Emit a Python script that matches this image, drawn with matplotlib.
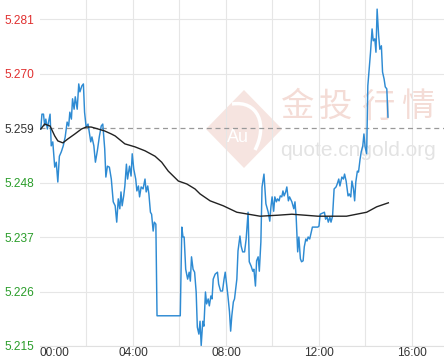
import numpy as np
import matplotlib
matplotlib.use("Agg")
import matplotlib.pyplot as plt
from matplotlib.patches import Polygon, PathPatch
from matplotlib.path import Path

# minutos desde 00:00 e preco
price_min = [2, 5, 9, 12, 15, 19, 22, 26, 29, 33, 38, 42, 46, 50, 55, 60, 65, 70, 74, 77,
             81, 84, 88, 91, 96, 100, 103, 108, 112, 115, 119, 124, 127, 131, 134, 139, 143, 148, 153, 158,
             162, 167, 170, 174, 179, 184, 189, 194, 198, 202, 206, 209, 212, 216, 219, 223, 226, 231, 235, 238,
             242, 247, 250, 254, 257, 261, 266, 271, 274, 278, 281, 285, 288, 292, 295, 299, 302, 362, 366, 369,
             372, 376, 381, 385, 388, 391, 395, 399, 403, 406, 410, 413, 416, 420, 423, 427, 430, 434, 437, 441,
             444, 447, 452, 458, 461, 466, 471, 475, 478, 482, 485, 489, 492, 495, 499, 502, 508, 511, 516, 519,
             523, 528, 532, 537, 540, 545, 549, 552, 556, 559, 563, 566, 570, 573, 578, 583, 589, 593, 596, 599,
             603, 606, 610, 613, 617, 620, 624, 627, 630, 634, 637, 641, 644, 650, 655, 658, 661, 665, 668, 672,
             675, 679, 682, 686, 689, 692, 696, 699, 703, 717, 720, 723, 734, 737, 741, 744, 748, 751, 755, 759,
             764, 767, 771, 774, 779, 783, 786, 790, 795, 798, 802, 805, 809, 812, 815, 819, 822, 826, 829, 833,
             836, 839, 843, 846, 850, 853, 857, 860, 864, 867, 870, 874, 877, 881, 884, 888, 891, 895, 898]
price_val = [5.2588, 5.2618, 5.2618, 5.2595, 5.2608, 5.2588, 5.2602, 5.2618, 5.2554, 5.2562,
             5.2511, 5.2521, 5.2481, 5.2533, 5.2542, 5.2554, 5.2572, 5.2602, 5.2594, 5.2622,
             5.2608, 5.2649, 5.2628, 5.2653, 5.2628, 5.2679, 5.2663, 5.2675, 5.2679, 5.2622,
             5.2592, 5.2598, 5.2582, 5.2562, 5.2572, 5.2554, 5.2521, 5.2544, 5.2572, 5.2594,
             5.2598, 5.2548, 5.2491, 5.2513, 5.2511, 5.2487, 5.2441, 5.2433, 5.2400, 5.2447,
             5.2427, 5.2461, 5.2433, 5.2453, 5.2473, 5.2517, 5.2487, 5.2513, 5.2493, 5.2538,
             5.2507, 5.2487, 5.2463, 5.2473, 5.2451, 5.2471, 5.2467, 5.2487, 5.2461, 5.2473,
             5.2457, 5.2420, 5.2416, 5.2382, 5.2400, 5.2396, 5.2211, 5.2211, 5.2390, 5.2370,
             5.2370, 5.2305, 5.2285, 5.2299, 5.2281, 5.2330, 5.2305, 5.2299, 5.2259, 5.2188,
             5.2174, 5.2200, 5.2151, 5.2200, 5.2190, 5.2259, 5.2235, 5.2245, 5.2231, 5.2251,
             5.2245, 5.2285, 5.2295, 5.2299, 5.2275, 5.2261, 5.2261, 5.2285, 5.2299, 5.2271,
             5.2251, 5.2219, 5.2180, 5.2211, 5.2239, 5.2245, 5.2285, 5.2342, 5.2372, 5.2352,
             5.2340, 5.2340, 5.2366, 5.2420, 5.2320, 5.2311, 5.2301, 5.2305, 5.2271, 5.2322,
             5.2330, 5.2301, 5.2360, 5.2471, 5.2497, 5.2437, 5.2420, 5.2402, 5.2431, 5.2451,
             5.2422, 5.2451, 5.2441, 5.2447, 5.2443, 5.2453, 5.2451, 5.2463, 5.2453, 5.2461,
             5.2471, 5.2443, 5.2451, 5.2441, 5.2427, 5.2441, 5.2412, 5.2340, 5.2370, 5.2326,
             5.2320, 5.2322, 5.2350, 5.2366, 5.2362, 5.2370, 5.2366, 5.2376, 5.2390, 5.2390,
             5.2392, 5.2416, 5.2420, 5.2406, 5.2410, 5.2400, 5.2410, 5.2400, 5.2412, 5.2467,
             5.2471, 5.2477, 5.2487, 5.2473, 5.2491, 5.2487, 5.2497, 5.2483, 5.2453, 5.2457,
             5.2451, 5.2483, 5.2467, 5.2443, 5.2481, 5.2503, 5.2501, 5.2527, 5.2542, 5.2554,
             5.2578, 5.2552, 5.2538, 5.2675, 5.2715, 5.2743, 5.2790, 5.2766, 5.2770, 5.2743,
             5.2830, 5.2776, 5.2749, 5.2756, 5.2703, 5.2689, 5.2673, 5.2669, 5.2612]

avg_min = [2, 12, 26, 38, 46, 59, 72, 90, 107, 119, 132, 150, 167, 184, 194, 219, 245, 271, 297, 314,
           331, 357, 379, 400, 413, 439, 473, 508, 538, 568, 614, 650, 684, 717, 753, 791, 843, 869, 899]
avg_val = [5.2588, 5.2598, 5.2594, 5.2574, 5.2564, 5.2560, 5.2568, 5.2578, 5.2588, 5.2592,
           5.2592, 5.2588, 5.2584, 5.2578, 5.2574, 5.2558, 5.2552, 5.2544, 5.2533, 5.2521,
           5.2503, 5.2483, 5.2477, 5.2467, 5.2457, 5.2443, 5.2433, 5.2420, 5.2416, 5.2412,
           5.2414, 5.2416, 5.2414, 5.2412, 5.2412, 5.2412, 5.2420, 5.2431, 5.2439]

prev_close = 5.259
y_ticks = [5.215, 5.226, 5.237, 5.248, 5.259, 5.270, 5.281]
x_ticks = [0, 240, 480, 720, 960]
x_labels = ["00:00", "04:00", "08:00", "12:00", "16:00"]

W, H = 444, 359
fig = plt.figure(figsize=(W / 100, H / 100), dpi=100)
ax = fig.add_axes([40 / W, 13 / H, 404 / W, 346 / H])

ax.set_xlim(0, 1042.6)
ax.set_ylim(5.215, 5.28484)

# grade
for v in y_ticks:
    if v == prev_close:
        continue
    ax.axhline(v, color="#e6e6e6", lw=0.8, zorder=1)
for m in range(120, 1042, 120):
    ax.axvline(m, color="#e6e6e6", lw=0.8, zorder=1)
ax.axhline(prev_close, color="#999999", lw=0.9, ls=(0, (4, 3)), zorder=2)

for s in ["top", "right", "left"]:
    ax.spines[s].set_visible(False)
ax.spines["bottom"].set_color("#e0e0e0")
ax.spines["bottom"].set_linewidth(0.8)

ax.plot(price_min, price_val, color="#2e8bd3", lw=1.05, zorder=4)
ax.plot(avg_min, avg_val, color="#222222", lw=1.0, zorder=5)

ax.set_yticks(y_ticks)
ax.set_yticklabels([f"{v:.3f}" for v in y_ticks])
for lab, v in zip(ax.get_yticklabels(), y_ticks):
    if v > prev_close + 1e-9:
        lab.set_color("#e02f2f")
    elif v < prev_close - 1e-9:
        lab.set_color("#2a9d2a")
    else:
        lab.set_color("#333333")
ax.set_xticks(x_ticks)
ax.set_xticklabels(x_labels, color="#333333")
ax.get_xticklabels()[0].set_horizontalalignment("left")
ax.tick_params(axis="both", length=0, labelsize=8.6)
ax.tick_params(axis="y", pad=4)
ax.tick_params(axis="x", pad=1)
for lab in ax.get_xticklabels() + ax.get_yticklabels():
    lab.set_fontfamily("Liberation Sans")

# marca d'agua
def px(x, y):
    return (x / W, 1 - y / H)

dx, dy = 244, 129
diamond = Polygon([px(dx, dy - 39), px(dx + 38, dy), px(dx, dy + 39), px(dx - 38, dy)],
                  closed=True, transform=fig.transFigure, facecolor="#f4dcd6",
                  edgecolor="none", alpha=0.75, zorder=0)
fig.patches.append(diamond)
swoosh = Path([px(232, 104), px(258, 100), px(268, 125), px(255, 150)],
              [Path.MOVETO, Path.CURVE4, Path.CURVE4, Path.CURVE4])
fig.patches.append(PathPatch(swoosh, transform=fig.transFigure, facecolor="none",
                             edgecolor="white", lw=2.5, zorder=0))
fig.text(*px(238, 137), "Au", color="white", fontsize=13, ha="center", va="center",
         family="Liberation Sans", zorder=0)
for ch, cx in zip("金投行情", [297, 336, 378, 418]):
    fig.text(*px(cx, 107), ch, color="#f4dcd6", fontsize=24, ha="center", va="center",
             family=["Noto Sans CJK SC", "DejaVu Sans"], fontweight="medium", zorder=0)
fig.text(*px(358, 150), "quote.cngold.org", color="#e3e3e3", fontsize=15, ha="center",
         va="center", family="Liberation Sans", zorder=0)
ax.set_zorder(1)
ax.patch.set_alpha(0)

fig.savefig("out.png", dpi=100)
